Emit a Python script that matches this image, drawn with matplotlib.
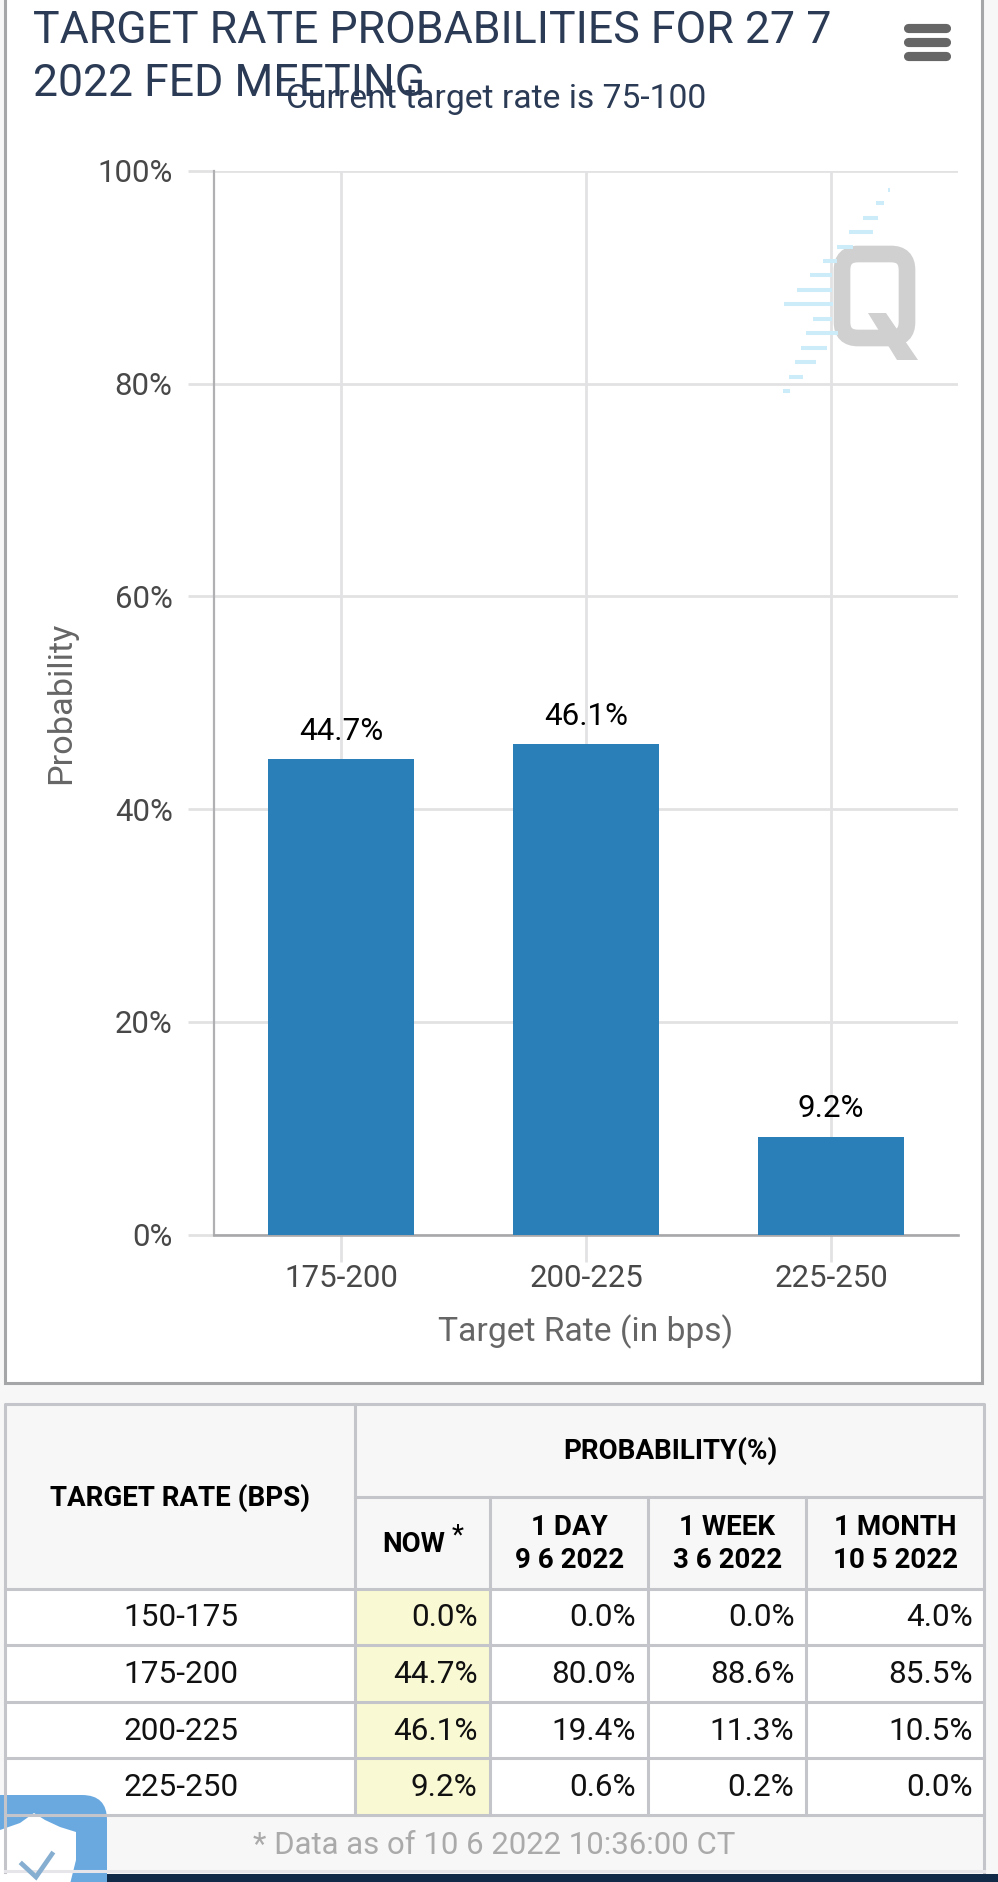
# -*- coding: utf-8 -*-
import matplotlib
matplotlib.use('Agg')
import matplotlib.pyplot as plt
from matplotlib.patches import FancyBboxPatch, Polygon, Rectangle

plt.rcParams['font.family'] = ['Roboto', 'DejaVu Sans']

W, H = 998, 1882

# chart data
rates = ['175-200', '200-225', '225-250']
probs = [44.7, 46.1, 9.2]
y_ticks = [0, 20, 40, 60, 80, 100]

# table data
row_rates = ['150-175', '175-200', '200-225', '225-250']
now_vals = ['0.0%', '44.7%', '46.1%', '9.2%']
day_vals = ['0.0%', '80.0%', '19.4%', '0.6%']
week_vals = ['0.0%', '88.6%', '11.3%', '0.2%']
month_vals = ['4.0%', '85.5%', '10.5%', '0.0%']
col_heads = ['1 DAY\n9 6 2022', '1 WEEK\n3 6 2022', '1 MONTH\n10 5 2022']

# watermark dashes, x0 x1 y in zoomed pixels
dash_x0 = [445, 408, 368, 328, 290, 250, 210, 172, 132, 218, 198, 182, 165, 148, 130]
dash_x1 = [450, 432, 415, 398, 340, 290, 275, 275, 280, 275, 295, 262, 228, 188, 150]
dash_y = [60, 100, 143, 186, 230, 273, 316, 359, 403, 446, 489, 533, 576, 620, 663]

TITLE_C = '#2b3b55'
GRID_C = '#e2e2e4'
LINE_C = '#c3c5cb'
PAGE_C = '#f7f7f8'
TICK_C = '#484848'

fig = plt.figure(figsize=(W / 100, H / 100), dpi=100, facecolor=PAGE_C)

# background layer in pixel coordinates
bg = fig.add_axes([0, 0, 1, 1], zorder=0)
bg.set_xlim(0, W)
bg.set_ylim(H, 0)
bg.axis('off')
bg.add_patch(Rectangle((5, -5), 977, 1388, fc='white', ec='#a5a6a8', lw=2.2))

# chart
ax = fig.add_axes([214 / W, 1 - 1234.5 / H, (958 - 214) / W, (1234.5 - 171) / H], zorder=1)
ax.patch.set_alpha(0)
xpos = list(range(len(rates)))
ax.bar(xpos, probs, width=146 / 245, color='#2a7fb8', zorder=3)
ax.set_xlim(-0.518, 2.518)
ax.set_ylim(0, 100)
ax.set_xticks(xpos)
ax.set_xticklabels(rates)
ax.set_yticks(y_ticks)
ax.set_yticklabels(['%d%%' % v for v in y_ticks])
ax.grid(True, color=GRID_C, lw=2, zorder=0)
ax.set_axisbelow(True)
ax.tick_params(axis='y', length=19, width=2, color=GRID_C, labelsize=22.4, labelcolor=TICK_C, pad=10.8)
ax.tick_params(axis='x', length=19.4, width=2, color=GRID_C, labelsize=22.5, labelcolor=TICK_C, pad=1.5)
for s in ['top', 'right']:
    ax.spines[s].set_visible(False)
ax.spines['left'].set_color('#b0b0b2')
ax.spines['left'].set_linewidth(1.6)
ax.spines['bottom'].set_color('#a8a8aa')
ax.spines['bottom'].set_linewidth(1.9)
ax.set_xlabel('Target Rate (in bps)', fontsize=24.2, color='#666666', labelpad=16)
ax.set_ylabel('Probability', fontsize=24.7, color='#666666', labelpad=14.6)
for x, v in zip(xpos, probs):
    ax.annotate('%.1f%%' % v, (x, v), xytext=(0, 9.5), textcoords='offset points',
                ha='center', va='bottom', fontsize=22.6, color='black', zorder=4)

# everything else on top, in pixel coordinates
top = fig.add_axes([0, 0, 1, 1], zorder=2)
top.set_xlim(0, W)
top.set_ylim(H, 0)
top.axis('off')
top.patch.set_alpha(0)

top.text(33, 43, 'TARGET RATE PROBABILITIES FOR 27 7', fontsize=32.1, color=TITLE_C, va='baseline')
top.text(33, 96, '2022 FED MEETING', fontsize=32.1, color=TITLE_C, va='baseline')
top.text(496, 108, 'Current target rate is 75-100', fontsize=24.2, color=TITLE_C, ha='center', va='baseline')

# menu icon
for y in [27.5, 41.5, 55.5]:
    top.plot([908, 946], [y, y], color='#666666', lw=6.6, solid_capstyle='round')

# watermark
for x0, x1, y in zip(dash_x0, dash_x1, dash_y):
    top.plot([740 + x0 / 3, 740 + x1 / 3], [170 + y / 3, 170 + y / 3], color='#cdecfa', lw=2.9,
             solid_capstyle='butt')
top.add_patch(FancyBboxPatch((842, 254), 65, 84, boxstyle='round,pad=0,rounding_size=16',
                             fc='none', ec='#d0d0d0', lw=12))
top.add_patch(Polygon([(868, 313), (886, 313), (918, 360), (897, 360)], fc='#d0d0d0', ec='none'))

# table
col_x = [5, 355, 490, 648.5, 806.5, 984]
row_y = [1589, 1645, 1702, 1758, 1815]
top.add_patch(Rectangle((col_x[0], 1404), col_x[-1] - col_x[0], 1872 - 1404, fc=PAGE_C, ec='none'))
top.add_patch(Rectangle((col_x[0], row_y[0]), col_x[-1] - col_x[0], row_y[-1] - row_y[0], fc='white', ec='none'))
top.add_patch(Rectangle((col_x[1], row_y[0]), col_x[2] - col_x[1], row_y[-1] - row_y[0], fc='#f9f9d3', ec='none'))
top.add_patch(Rectangle((0, 1874), W, 10, fc='#102a47', ec='none'))

lw = 2.2
top.plot([col_x[0], col_x[0], col_x[-1], col_x[-1]], [1872, 1404, 1404, 1872], color=LINE_C, lw=lw)
top.plot([col_x[0], col_x[-1]], [1871, 1871], color='#e6e6ea', lw=lw)
top.plot([col_x[1], col_x[-1]], [1497, 1497], color=LINE_C, lw=lw)
for y in row_y:
    top.plot([col_x[0], col_x[-1]], [y, y], color=LINE_C, lw=lw)
top.plot([col_x[1], col_x[1]], [1404, row_y[-1]], color=LINE_C, lw=lw)
for x in col_x[2:5]:
    top.plot([x, x], [1497, row_y[-1]], color=LINE_C, lw=lw)

top.text(180, 1498, 'TARGET RATE (BPS)', fontsize=20, weight='bold', ha='center', va='center', color='black')
top.text(670, 1451, 'PROBABILITY(%)', fontsize=20, weight='bold', ha='center', va='center', color='black')
top.text(414, 1544, 'NOW', fontsize=20, weight='bold', ha='center', va='center', color='black')
top.text(458, 1536, '*', fontsize=20, ha='center', va='center', color='black')
for i, head in enumerate(col_heads):
    top.text((col_x[i + 2] + col_x[i + 3]) / 2, 1544, head, fontsize=20, weight='bold', ha='center',
             va='center', color='black', linespacing=1.3)

right_x = [477.5, 635.5, 794.5, 972.5]
for i in range(len(row_rates)):
    yc = (row_y[i] + row_y[i + 1]) / 2 + 1
    top.text(181, yc, row_rates[i], fontsize=22.7, ha='center', va='center', color='#111111')
    for x, vals in zip(right_x, [now_vals, day_vals, week_vals, month_vals]):
        top.text(x, yc, vals[i], fontsize=22.7, ha='right', va='center', color='#111111')

top.text(494, 1845, '* Data as of 10 6 2022 10:36:00 CT', fontsize=22.4, ha='center', va='center', color='#aaaaaa')

# security badge
top.add_patch(FancyBboxPatch((-40, 1795), 147, 120, boxstyle='round,pad=0,rounding_size=25',
                             fc='#6aa9e0', ec='none'))
top.add_patch(Polygon([(0, 1830), (20, 1823), (34, 1813), (45, 1820), (60, 1827), (76, 1832), (76, 1860),
                       (70, 1884), (0, 1884)], fc='white', ec='none'))
top.plot([22, 36, 52], [1864, 1877, 1854], color='#86aed0', lw=3.4, solid_joinstyle='miter')

fig.savefig('out.png', dpi=100, facecolor=fig.get_facecolor())
